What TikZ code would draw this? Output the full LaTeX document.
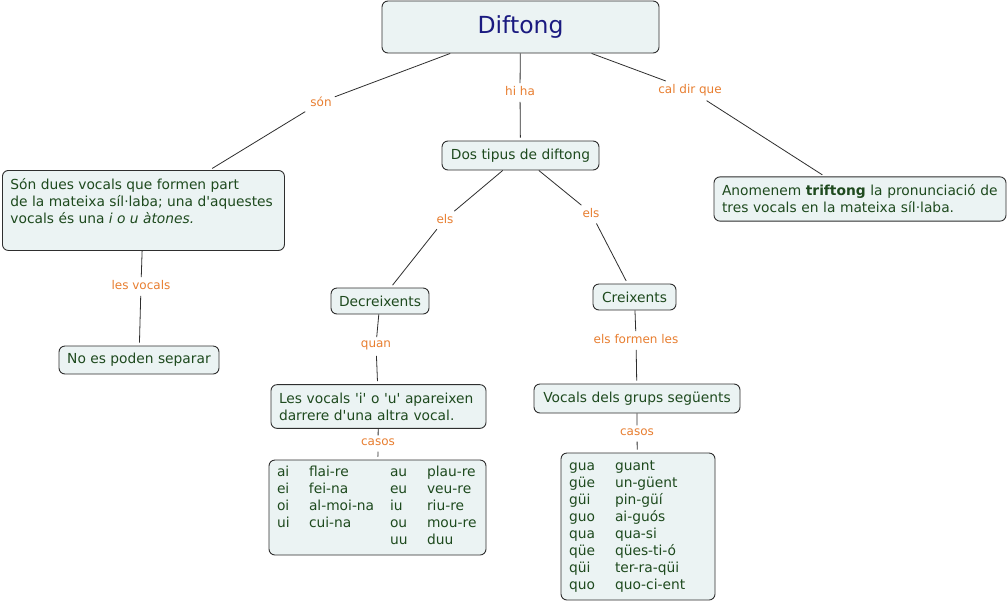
\documentclass[tikz,border=0pt]{standalone}
\usepackage{fontspec}
\setmainfont{DejaVu Sans}[Ligatures=TeXOff]
\usetikzlibrary{positioning}

\definecolor{conceptfill}{HTML}{EBF3F3}
\definecolor{concepttext}{HTML}{1E4A1E}
\definecolor{titletext}{HTML}{1A1A80}
\definecolor{linktext}{HTML}{E87E30}
\definecolor{linkline}{HTML}{2E2E2E}

\begin{document}
\begin{tikzpicture}[x=1pt, y=-1pt,
    concept/.style={draw=linkline, line width=0.9pt, rounded corners=6pt, fill=conceptfill, text=concepttext, font=\fontsize{13.8}{17}\selectfont, inner sep=0pt},
    linklabel/.style={text=linktext, font=\fontsize{12}{14}\selectfont, inner sep=3pt},
    link/.style={draw=linkline, line width=0.8pt, shorten <=3pt, shorten >=3pt}]
    \useasboundingbox[fill=white] (0,0) rectangle (1008,603);

    % Central concept
    \node[concept, minimum width=277pt, minimum height=52pt, text=titletext, font=\fontsize{23.5}{28}\selectfont] (Diftong) at (520.5,27) {Diftong};

    % First level
    \node[concept, anchor=north west, inner sep=8pt] (Sons) at (2,170) {\parbox[c][64pt][t]{266pt}{\raggedright Són dues vocals que formen part\\ de la mateixa síl·laba; una d'aquestes\\ vocals és una \textit{i o u àtones.}}};
    \node[concept, minimum width=157pt, minimum height=29pt] (Tipus) at (520.5,155.5) {Dos tipus de diftong};
    \node[concept, inner sep=8pt, text width=276pt, align=left, minimum height=44pt] (Triftong) at (860,199) {Anomenem \textbf{triftong} la pronunciació de\\ tres vocals en la mateixa síl·laba.};

    % Second level
    \node[concept, minimum width=160pt, minimum height=28pt] (Separar) at (139,360) {No es poden separar};
    \node[concept, minimum width=98pt, minimum height=26pt] (Decreixents) at (380,301) {Decreixents};
    \node[concept, minimum width=83pt, minimum height=26pt] (Creixents) at (634.5,297) {Creixents};

    % Third level
    \node[concept, inner sep=8pt, text width=199pt, align=left, minimum height=43pt] (Darrere) at (378.5,406.5) {Les vocals 'i' o 'u' apareixen\\ darrere d'una altra vocal.};
    \node[concept, minimum width=206pt, minimum height=29pt] (Grups) at (637,398.5) {Vocals dels grups següents};

    % Examples
    \node[concept, inner xsep=8pt, inner ysep=5pt] (CasosDec) at (377.5,507.5) {\begin{tabular}{@{}p{32pt}@{}p{81pt}@{}p{37pt}@{}p{51pt}@{}}
        ai & flai-re & au & plau-re\\
        ei & fei-na & eu & veu-re\\
        oi & al-moi-na & iu & riu-re\\
        ui & cui-na & ou & mou-re\\
           & & uu & duu
    \end{tabular}};
    \node[concept, inner xsep=8pt, inner ysep=5.5pt] (CasosCre) at (638,526.5) {\begin{tabular}{@{}p{46pt}@{}p{92pt}@{}}
        gua & guant\\
        güe & un-güent\\
        güi & pin-güí\\
        guo & ai-guós\\
        qua & qua-si\\
        qüe & qües-ti-ó\\
        qüi & ter-ra-qüi\\
        quo & quo-ci-ent
    \end{tabular}};

    % Link labels
    \node[linklabel] (lSon) at (321,102) {són};
    \node[linklabel] (lHiHa) at (520,91) {hi ha};
    \node[linklabel] (lCalDir) at (690,90) {cal dir que};
    \node[linklabel] (lElsDec) at (445,219) {els};
    \node[linklabel] (lElsCre) at (591,213) {els};
    \node[linklabel] (lVocals) at (141,285) {les vocals};
    \node[linklabel] (lQuan) at (376,345) {quan};
    \node[linklabel] (lFormen) at (636,339) {els formen les};
    \node[linklabel] (lCasosDec) at (378,442) {casos};
    \node[linklabel] (lCasosCre) at (637,432) {casos};

    % Links
    \draw[link] (Diftong) -- (lSon) -- (Sons);
    \draw[link] (Diftong) -- (lHiHa) -- (Tipus);
    \draw[link] (Diftong) -- (lCalDir) -- (Triftong);
    \draw[link] (Tipus) -- (lElsDec) -- (Decreixents);
    \draw[link] (Tipus) -- (lElsCre) -- (Creixents);
    \draw[link] (Sons) -- (lVocals) -- (Separar);
    \draw[link] (Decreixents) -- (lQuan) -- (Darrere);
    \draw[link] (Creixents) -- (lFormen) -- (Grups);
    \draw[link] (Darrere) -- (lCasosDec) -- (CasosDec);
    \draw[link] (Grups) -- (lCasosCre) -- (CasosCre);
\end{tikzpicture}
\end{document}
